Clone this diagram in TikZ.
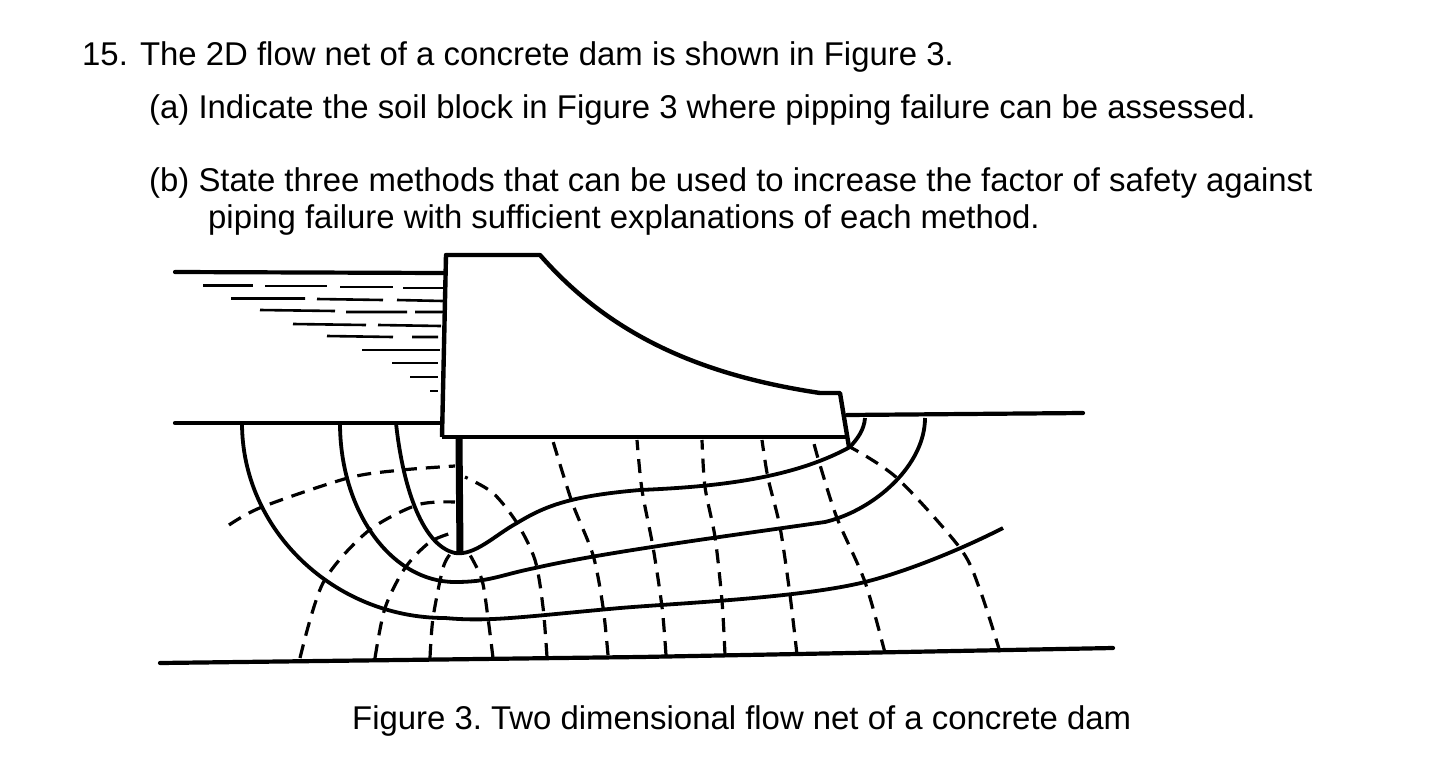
\documentclass[tikz,border=0pt]{standalone}
\usepackage{fontspec}
\setmainfont{Liberation Sans}
\frenchspacing
\tikzset{
	textline/.style={anchor=base west, inner sep=0pt, font=\fontsize{32.9}{38}\selectfont},
	damline/.style={line width=4.4pt, line join=round},
	groundline/.style={line width=4.2pt, line cap=round},
	pileline/.style={line width=7pt},
	waterline/.style={line width=2.6pt},
	flowline/.style={line width=3.8pt, line join=round},
	equipline/.style={line width=3.2pt, dash pattern=on 14pt off 9pt}
}
\begin{document}
\begin{tikzpicture}[x=1pt, y=-1pt]
		\useasboundingbox (0,0) rectangle (1430,774);

		\node[textline] (q) at (82,65) {15.\hspace{3pt} The 2D flow net of a concrete dam is shown in Figure 3.};
		\node[textline] (qa) at (149,118) {(a) Indicate the soil block in Figure 3 where pipping failure can be assessed.};
		\node[textline] (qb) at (149,191) {(b) State three methods that can be used to increase the factor of safety against};
		\node[textline] (qc) at (208,228) {piping failure with sufficient explanations of each method.};
		\node[textline] (cap) at (352,729) {Figure 3. Two dimensional flow net of a concrete dam};

		\draw[groundline] (175,272) -- (443,273);
		\draw[groundline] (175,423) -- (441,423);
		\draw[groundline] (847,415) -- (1083,413);
		\draw[groundline] (160,663) -- (640,657) -- (1113,648);

		\draw[waterline] (203,285.5) -- (253,285.5) (265,286) -- (327,286) (340,287) -- (393,287) (403,288) -- (443,288);
		\draw[waterline] (231,298.5) -- (305,298.5) (317,299) -- (383,300) (397,300) -- (443,301);
		\draw[waterline] (260,310) -- (335,311) (346,312) -- (407,312) (415,312) -- (443,312);
		\draw[waterline] (293,324) -- (366,325) (378,325) -- (441,326);
		\draw[waterline] (327,336) -- (393,337) (412,337) -- (438,337);
		\draw[waterline] (362,350) -- (440,350);
		\draw[waterline] (392,363) -- (438,363);
		\draw[waterline] (410,377) -- (438,377);
		\draw[waterline] (430,391) -- (438,391);

		\draw[damline] (442,437) -- (446,255) -- (540,255)
			.. controls (610,335) and (700,375) .. (820,393) -- (840,393) -- (849,447);
		\draw[damline] (442,437) -- (846,437);
		\draw[pileline] (459,438) -- (460,552);

		\draw[flowline] (396,423) .. controls (402,480) and (420,545) .. (455,553)
			.. controls (475,556) and (495,535) .. (517,523)
			.. controls (545,506) and (570,496) .. (640,490)
			.. controls (710,487) and (790,480) .. (850,447);
		\draw[flowline] (850,447) .. controls (858,438) and (864,430) .. (865,418);
		\draw[flowline] (340,423) .. controls (340,511) and (391,582) .. (455,582)
			.. controls (490,582) and (500,575) .. (535,568)
			.. controls (600,553) and (720,537) .. (825,522)
			.. controls (875,510) and (925,465) .. (925,418);
		\draw[flowline] (242,423) .. controls (242,531) and (335,618) .. (445,618)
			.. controls (490,622) and (520,617) .. (620,608)
			.. controls (680,603) and (800,598) .. (865,582)
			.. controls (905,572) and (960,550) .. (1003,528);

		\draw[equipline] plot[smooth] coordinates {(229,525) (262,507) (348,478) (402,470) (455,466)};
		\draw[equipline] plot[smooth] coordinates {(300,658) (323,583) (367,532) (417,505) (455,502)};
		\draw[equipline] plot[smooth] coordinates {(375,658) (385,608) (405,568) (430,542) (455,532)};
		\draw[equipline] plot[smooth] coordinates {(430,658) (433,618) (443,568) (451,553)};
		\draw[equipline] plot[smooth] coordinates {(493,658) (488,618) (482,580) (470,555)};
		\draw[equipline] plot[smooth] coordinates {(547,657) (543,607) (535,560) (517,523) (493,493) (465,477)};
		\draw[equipline] plot[smooth] coordinates {(608,655) (603,607) (593,555) (572,502) (552,438)};
		\draw[equipline] plot[smooth] coordinates {(666,655) (662,607) (653,547) (642,490) (637,440)};
		\draw[equipline] plot[smooth] coordinates {(725,655) (722,601) (715,537) (705,487) (702,440)};
		\draw[equipline] plot[smooth] coordinates {(797,655) (790,595) (780,527) (768,478) (762,440)};
		\draw[equipline] plot[smooth] coordinates {(885,653) (865,582) (837,518) (820,465) (813,440)};
		\draw[equipline] plot[smooth] coordinates {(1000,652) (980,590) (960,548) (897,478) (850,447)};
\end{tikzpicture}
\end{document}
